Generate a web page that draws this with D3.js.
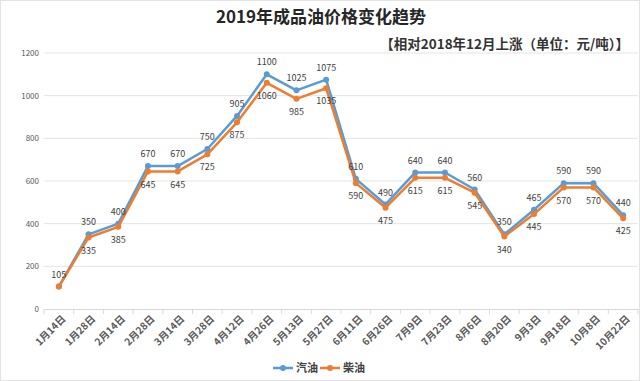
<!DOCTYPE html>
<html><head><meta charset="utf-8">
<script src="https://cdn.jsdelivr.net/npm/d3@7/dist/d3.min.js"></script>
<style>body{margin:0;background:#fff}svg{display:block}</style>
</head><body>
<script>
const categories = ["1月14日","1月28日","2月14日","2月28日","3月14日","3月28日","4月12日","4月26日","5月13日","5月27日","6月11日","6月26日","7月9日","7月23日","8月6日","8月20日","9月3日","9月18日","10月8日","10月22日"];
const gasoline = [105,350,400,670,670,750,905,1100,1025,1075,610,490,640,640,560,350,465,590,590,440];
const diesel   = [105,335,385,645,645,725,875,1060,985,1035,590,475,615,615,545,340,445,570,570,425];
const yTicks = [0,200,400,600,800,1000,1200];
const seriesNames = ["汽油","柴油"];
const title = "2019年成品油价格变化趋势";
const subtitle = "【相对2018年12月上涨（单位：元/吨）】";

const W = 640, H = 381;
const colors = ["#5b9bd5","#ed7d31"];
const font = "'Noto Sans CJK SC','Noto Sans',sans-serif";

const svg = d3.select("body").append("svg").attr("width",W).attr("height",H);
svg.append("rect").attr("x",0.5).attr("y",0.5).attr("width",W-1).attr("height",H-1)
  .attr("fill","#fff").attr("stroke","#e3e3e3");

const x = d3.scaleBand().domain(categories).range([44,638]);
const y = d3.scaleLinear().domain([0,1200]).range([309,53]);

// gridlines
svg.append("g").selectAll("line").data(yTicks.filter(d=>d>0)).join("line")
  .attr("x1",44).attr("x2",638).attr("y1",d=>y(d)).attr("y2",d=>y(d))
  .attr("stroke","#e4e4e4").attr("stroke-width",1);

// y axis labels
const yAxis = d3.axisLeft(y).tickValues(yTicks).tickFormat(d3.format("d")).tickSize(0).tickPadding(0);
const gy = svg.append("g").attr("transform","translate(39,0)").call(yAxis);
gy.select(".domain").remove();
gy.selectAll("text").attr("font-family",font).attr("font-size",8).attr("fill","#595959");

// x axis
const xAxis = d3.axisBottom(x).tickSize(0).tickPadding(0);
const gx = svg.append("g").attr("transform","translate(0,309)").call(xAxis);
gx.select(".domain").attr("stroke","#d9d9d9");
gx.selectAll("text").attr("font-family",font).attr("font-size",10).attr("font-weight","bold")
  .attr("fill","#595959").attr("text-anchor","end")
  .attr("transform","translate(5,8) rotate(-45)").attr("dy","0.35em");
// band boundary ticks
const bounds = categories.map(c=>x(c)).concat([x.range()[1]]);
svg.append("g").selectAll("line").data(bounds).join("line")
  .attr("x1",d=>d).attr("x2",d=>d).attr("y1",309).attr("y2",314)
  .attr("stroke","#d9d9d9");

// lines
const series = [gasoline, diesel];
const line = d3.line().x((d,i)=>x(categories[i])+x.bandwidth()/2).y(d=>y(d));
series.forEach((s,k)=>{
  const g = svg.append("g");
  g.append("path").datum(s).attr("d",line).attr("fill","none")
    .attr("stroke",colors[k]).attr("stroke-width",2.5).attr("stroke-linejoin","round");
  g.selectAll("circle").data(s).join("circle")
    .attr("cx",(d,i)=>x(categories[i])+x.bandwidth()/2).attr("cy",d=>y(d)).attr("r",3)
    .attr("fill",colors[k]);
});

// data labels
svg.append("g").selectAll("text").data(gasoline).join("text")
  .attr("x",(d,i)=>x(categories[i])+x.bandwidth()/2).attr("y",d=>y(d)-12)
  .attr("dy","0.35em").attr("text-anchor","middle")
  .attr("font-family",font).attr("font-size",9).attr("fill","#404040").text(d=>d);
svg.append("g").selectAll("text").data(diesel.map((d,i)=>({d,i})).filter(o=>o.d!==gasoline[o.i])).join("text")
  .attr("x",o=>x(categories[o.i])+x.bandwidth()/2).attr("y",o=>y(o.d)+13)
  .attr("dy","0.35em").attr("text-anchor","middle")
  .attr("font-family",font).attr("font-size",9).attr("fill","#404040").text(o=>o.d);

// title
svg.append("text").attr("x",321).attr("y",23).attr("text-anchor","middle")
  .attr("font-family",font).attr("font-size",17).attr("font-weight","bold")
  .attr("fill","#262626").text(title);
svg.append("text").attr("x",629).attr("y",49).attr("text-anchor","end")
  .attr("font-family",font).attr("font-size",13.5).attr("font-weight","bold")
  .attr("fill","#333").text(subtitle);

// legend
const legX = [273,320];
seriesNames.forEach((n,k)=>{
  const g = svg.append("g").attr("transform",`translate(${legX[k]},368)`);
  g.append("line").attr("x1",0).attr("x2",20).attr("stroke",colors[k]).attr("stroke-width",2.5);
  g.append("circle").attr("cx",10).attr("r",3).attr("fill",colors[k]);
  g.append("text").attr("x",23).attr("dy","0.35em").attr("font-family",font)
    .attr("font-size",11).attr("font-weight","bold").attr("fill","#404040").text(n);
});
</script>
</body></html>
